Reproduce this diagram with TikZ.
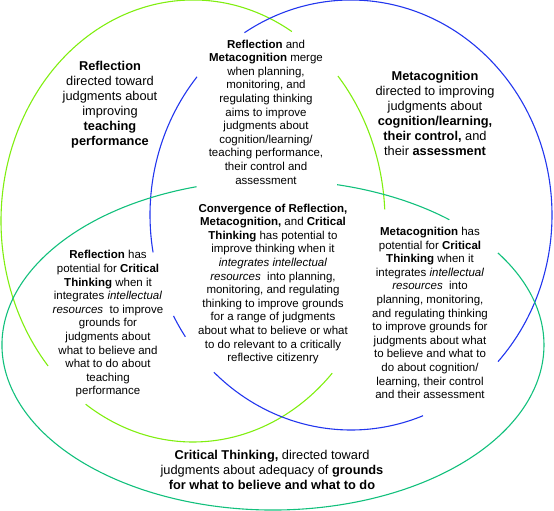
\documentclass[tikz,border=0pt]{standalone}
\usepackage{fontspec}
\setmainfont{Liberation Sans}
\usepackage{tikz}
\usetikzlibrary{positioning,calc}
\definecolor{vnR}{HTML}{80EE10}
\definecolor{vnM}{HTML}{2236EE}
\definecolor{vnC}{HTML}{12C07C}

\begin{document}
\begin{tikzpicture}[x=1pt,y=1pt,every node/.style={align=center,inner sep=0pt,font=\fontsize{11.5}{13.6}\selectfont},
  big/.style={font=\fontsize{12.8}{15}\selectfont},ring/.style={line width=1.1pt}]
  \useasboundingbox (0,0) rectangle (554,511);
  \coordinate (cR) at (193,290);
  \coordinate (cM) at (351,296);
  \coordinate (cC) at (273,166);
  \foreach \a/\b in {59/221,236/316.5,3/41}
    \draw[ring,vnR] ([shift={(\a:192 and 221)}]cR) arc[start angle=\a,end angle=\b,x radius=192,y radius=221];
  \foreach \a/\b in {-43/122,227/291,208/214.5,140/190}
    \draw[ring,vnM] ([shift={(\a:201 and 215)}]cM) arc[start angle=\a,end angle=\b,x radius=201,y radius=215];
  \foreach \a/\b in {106.4/393.9,49.4/76.3}
    \draw[ring,vnC] ([shift={(\a:271 and 165)}]cC) arc[start angle=\a,end angle=\b,x radius=271,y radius=165];

  \node[big] (refl) at (110,406) {\textbf{Reflection}\\directed toward\\judgments about\\improving\\\textbf{teaching}\\\textbf{performance}};
  \node (merge) at (266,399) {\textbf{Reflection} and\\\textbf{Metacognition} merge\\when planning,\\monitoring, and\\regulating thinking\\aims to improve\\judgments about\\cognition/learning/\\teaching performance,\\their control and\\assessment};
  \node[big] (meta) at (435,398) {\textbf{Metacognition}\\directed to improving\\judgments about\\\textbf{cognition/learning,}\\\textbf{their control,} and\\their \textbf{assessment}};
  \node (conv) at (273,227) {\textbf{Convergence of Reflection,}\\\textbf{Metacognition,} and \textbf{Critical}\\\textbf{Thinking} has potential to\\improve thinking when it\\\textit{integrates intellectual}\\\textit{resources}\ \ into planning,\\monitoring, and regulating\\thinking to improve grounds\\for a range of judgments\\about what to believe or what\\to do relevant to a critically\\reflective citizenry};
  \node (reflct) at (108,187) {\textbf{Reflection} has\\potential for \textbf{Critical}\\\textbf{Thinking} when it\\integrates \textit{intellectual}\\\textit{resources}\ \ to improve\\grounds for\\judgments about\\what to believe and\\what to do about\\teaching\\performance};
  \node (metact) at (430,198) {\textbf{Metacognition} has\\potential for \textbf{Critical}\\\textbf{Thinking} when it\\integrates \textit{intellectual}\\\textit{resources}\ \ into\\planning, monitoring,\\and regulating thinking\\to improve grounds for\\judgments about what\\to believe and what to\\do about cognition/\\learning, their control\\and their assessment};
  \node[big] (ct) at (272,41) {\textbf{Critical Thinking,} directed toward\\judgments about adequacy of \textbf{grounds}\\\textbf{for what to believe and what to do}};
\end{tikzpicture}
\end{document}
